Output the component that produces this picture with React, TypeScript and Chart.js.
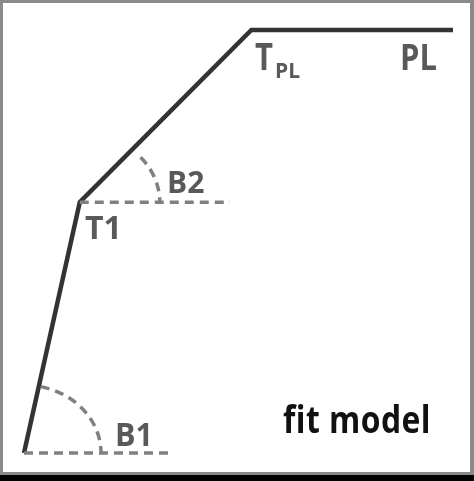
import React, { useEffect, useRef } from 'react';
import { Chart, registerables, Plugin } from 'chart.js';

Chart.register(...registerables);

// fit model break points (arbitrary units, 0..100 on both axes)
const modelX = [0, 13, 53, 100];
const modelY = [0, 59.3, 100, 100];

// dashed horizontal reference lines at T0 and T1
const refB1X = [0, 34.5];
const refB1Y = [0, 0];
const refB2X = [13, 48];
const refB2Y = [59.3, 59.3];

const labelT1 = 'T1';
const labelB1 = 'B1';
const labelB2 = 'B2';
const labelT = 'T';
const labelSub = 'PL';
const labelPL = 'PL';
const caption = 'fit model';

const LINE = '#333333';
const DASH = '#808080';
const TEXT = '#595959';
const FONT = '"Open Sans", Lato, sans-serif';

const toPoints = (xs: number[], ys: number[]) => xs.map((x, i) => ({ x, y: ys[i] }));

const annotations: Plugin<'scatter'> = {
  id: 'annotations',
  afterDatasetsDraw(chart) {
    const { ctx, scales } = chart;
    const sx = scales.x;
    const sy = scales.y;
    const px = (i: number) => sx.getPixelForValue(modelX[i]);
    const py = (i: number) => sy.getPixelForValue(modelY[i]);

    ctx.save();
    // angle arcs
    ctx.strokeStyle = DASH;
    ctx.lineWidth = 3.5;
    ctx.setLineDash([9, 6]);
    const a1 = Math.atan2(py(0) - py(1), px(1) - px(0));
    ctx.beginPath();
    ctx.ellipse(px(0), py(0), 77, 68, 0, -a1, 0);
    ctx.stroke();
    const a2 = Math.atan2(py(1) - py(2), px(2) - px(1));
    ctx.beginPath();
    ctx.ellipse(px(1), py(1), 80, 69, 0, -a2 + 0.08, 0);
    ctx.stroke();
    ctx.setLineDash([]);

    // labels (font size chosen from cap height, width squeezed to the reference)
    ctx.textBaseline = 'alphabetic';
    ctx.textAlign = 'left';
    ctx.fillStyle = TEXT;
    ctx.font = `bold 32px ${FONT}`;
    ctx.fillText(labelB1, 115, 446, 38);
    ctx.font = `bold 30px ${FONT}`;
    ctx.fillText(labelB2, 167, 193, 40);
    ctx.font = `bold 33px ${FONT}`;
    ctx.fillText(labelT1, 85, 239, 37);
    ctx.font = `bold 37px ${FONT}`;
    ctx.fillText(labelT, 255, 70, 18);
    ctx.font = `bold 21px ${FONT}`;
    ctx.fillText(labelSub, 275, 78, 25);
    ctx.font = `bold 35px ${FONT}`;
    ctx.fillText(labelPL, 400, 70, 37);
    ctx.fillStyle = '#111111';
    ctx.font = `bold 37px ${FONT}`;
    (ctx as any).letterSpacing = '0.5px';
    ctx.fillText(caption, 283, 433, 148);
    ctx.restore();
  },
};

const FitModelChart: React.FC = () => {
  const chartRef = useRef<HTMLCanvasElement>(null);
  const chartInstance = useRef<Chart | null>(null);

  useEffect(() => {
    if (!chartRef.current) return;
    if (chartInstance.current) chartInstance.current.destroy();
    const ctx = chartRef.current.getContext('2d');
    if (!ctx) return;

    chartInstance.current = new Chart(ctx, {
      type: 'scatter',
      data: {
        datasets: [
          {
            data: toPoints(refB1X, refB1Y),
            showLine: true,
            borderColor: DASH,
            borderWidth: 3.5,
            borderDash: [9, 6],
            pointRadius: 0,
            clip: false,
          },
          {
            data: toPoints(refB2X, refB2Y),
            showLine: true,
            borderColor: DASH,
            borderWidth: 3.5,
            borderDash: [9, 6],
            pointRadius: 0,
            clip: false,
          },
          {
            data: toPoints(modelX, modelY),
            showLine: true,
            borderColor: LINE,
            borderWidth: 4.5,
            pointRadius: 0,
            clip: false,
          },
        ],
      },
      options: {
        animation: false,
        responsive: false,
        events: [],
        layout: { padding: { left: 24, right: 21, top: 30, bottom: 28 } },
        scales: {
          x: { type: 'linear', min: 0, max: 100, display: false },
          y: { type: 'linear', min: 0, max: 100, display: false },
        },
        plugins: { legend: { display: false }, tooltip: { enabled: false } },
      },
      plugins: [annotations],
    });

    return () => {
      if (chartInstance.current) {
        chartInstance.current.destroy();
        chartInstance.current = null;
      }
    };
  }, []);

  return (
    <div style={{ position: 'fixed', left: 0, top: 0, width: 474, height: 481, background: '#000' }}>
      <div
        style={{
          position: 'absolute',
          left: 0,
          top: 0,
          width: 474,
          height: 475,
          boxSizing: 'border-box',
          background: '#fff',
          borderStyle: 'solid',
          borderColor: '#8a8a8a',
          borderWidth: '3px 4px 3px 3px',
        }}
      />
      <canvas ref={chartRef} width={474} height={481} style={{ position: 'absolute', left: 0, top: 0 }} />
    </div>
  );
};

export default function App() {
  return <FitModelChart />;
}
